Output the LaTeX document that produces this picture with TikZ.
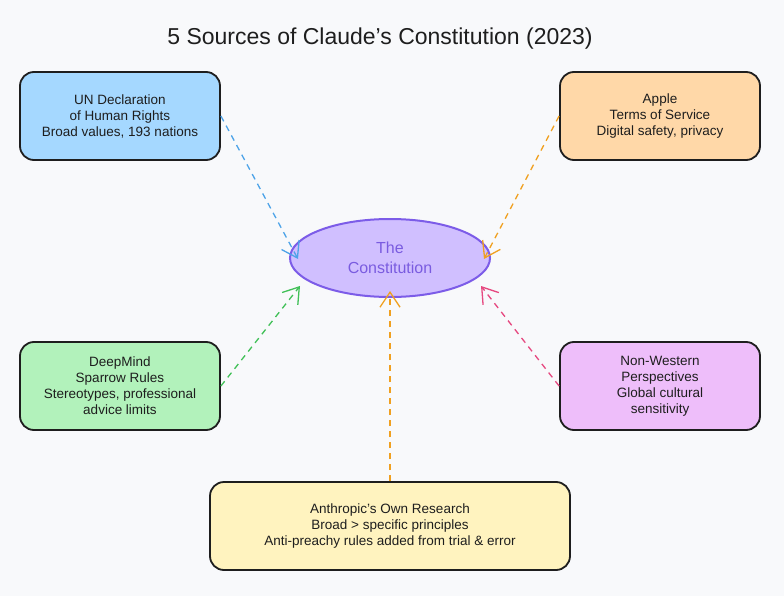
\documentclass[tikz,border=0pt]{standalone}
\usepackage{fontspec}
\setmainfont{Liberation Sans}
\usetikzlibrary{arrows.meta,shapes.geometric}
\definecolor{bg}{HTML}{F8F9FB}
\definecolor{ink}{HTML}{1E1E1E}
\definecolor{cblue}{HTML}{A5D8FF}
\definecolor{corange}{HTML}{FFD8A8}
\definecolor{cgreen}{HTML}{B2F2BB}
\definecolor{cpink}{HTML}{EEBEFA}
\definecolor{cyellow}{HTML}{FFF3BF}
\definecolor{cviolet}{HTML}{D0BFFF}
\definecolor{sviolet}{HTML}{7C5CE8}
\definecolor{tviolet}{HTML}{7A5CE0}
\definecolor{ablue}{HTML}{4DA3E8}
\definecolor{aorange}{HTML}{F0A020}
\definecolor{agreen}{HTML}{40C057}
\definecolor{apink}{HTML}{E64980}
\tikzset{
  srcbox/.style={draw=ink, line width=1.8pt, rounded corners=14pt, minimum width=200pt, minimum height=88pt, align=center, text=ink, font=\fontsize{13.5}{16}\selectfont, inner sep=0pt},
  conn/.style={dashed, dash pattern=on 6pt off 5pt, line width=1.3pt, -{Straight Barb[length=15pt,width=20pt,line width=1.3pt]}}
}
\begin{document}
\begin{tikzpicture}[x=1pt,y=-1pt]
\fill[bg] (0,0) rectangle (784,596);
\useasboundingbox (0,0) rectangle (784,596);
\node[font=\fontsize{23}{26}\selectfont, text=ink] (title) at (380,39) {5 Sources of Claude's Constitution (2023)};
\node[srcbox, fill=cblue] (un) at (120,116) {UN Declaration\\of Human Rights\\Broad values, 193 nations};
\node[srcbox, fill=corange] (ap) at (660,116) {Apple\\Terms of Service\\Digital safety, privacy};
\node[srcbox, fill=cgreen] (dm) at (120,386) {DeepMind\\Sparrow Rules\\Stereotypes, professional\\advice limits};
\node[srcbox, fill=cpink] (nw) at (660,386) {Non-Western\\Perspectives\\Global cultural\\sensitivity};
\node[srcbox, fill=cyellow, minimum width=360pt] (ar) at (390,526) {Anthropic's Own Research\\Broad > specific principles\\Anti-preachy rules added from trial \& error};
\node[ellipse, draw=sviolet, line width=2pt, fill=cviolet, minimum width=200pt, minimum height=78pt, inner sep=0pt, align=center, text=tviolet, font=\fontsize{16}{20}\selectfont] (c) at (390,258) {The\\Constitution};
\coordinate (eun) at (298,259);
\coordinate (eap) at (484,259);
\coordinate (edm) at (300,286);
\coordinate (enw) at (481,286);
\coordinate (ear) at (390,291);
\draw[conn, ablue] (un.east) -- (eun);
\draw[conn, aorange] (ap.west) -- (eap);
\draw[conn, agreen] (dm.east) -- (edm);
\draw[conn, apink] (nw.west) -- (enw);
\draw[conn, aorange] (ar.north) -- (ear);
\end{tikzpicture}
\end{document}
